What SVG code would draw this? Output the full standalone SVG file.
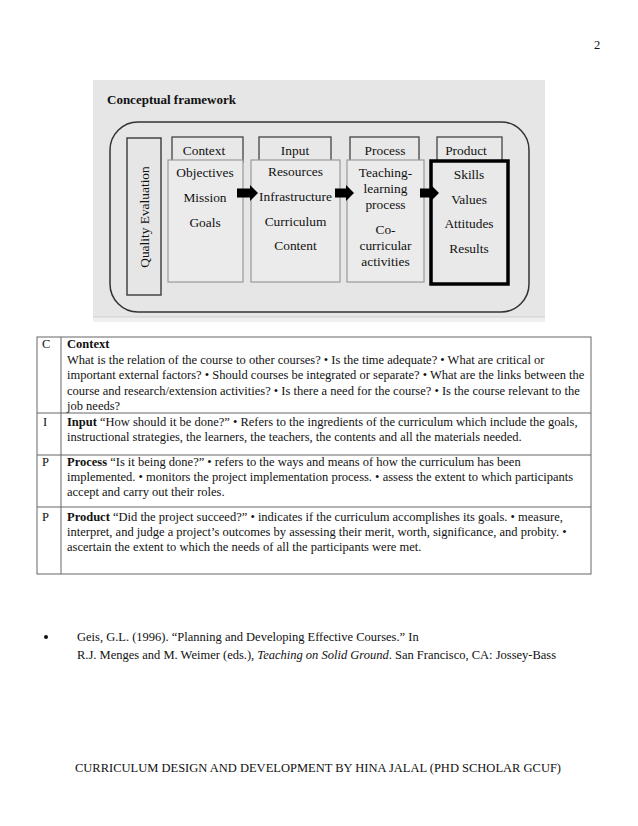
<svg xmlns="http://www.w3.org/2000/svg" width="638" height="826" viewBox="0 0 638 826">
<style>
text{font-family:"Liberation Serif","Times New Roman",serif;fill:#111}
.d{font-size:13.4px;text-anchor:middle}
.t{font-size:12.5px}
.hdr{fill:#e8e8e8;stroke:#444;stroke-width:1.3}
.box{fill:#ebebeb;stroke:#9a9a9a;stroke-width:1.2}
.arr{fill:#000}
.tl{stroke:#666;stroke-width:1;fill:none}
</style>
<rect width="638" height="826" fill="#fff"/>
<text x="597" y="49" class="t" text-anchor="middle">2</text>
<g id="figure">
<rect x="93" y="80" width="452" height="237" fill="#e6e6e6"/>
<rect x="93" y="317" width="452" height="5" fill="#f0f0f0"/>
<line x1="93" y1="317" x2="545" y2="317" stroke="#cfcfcf" stroke-width="1"/>
<text x="107" y="104" style="font-size:13px;font-weight:bold">Conceptual framework</text>
<rect id="frame" x="110" y="122" width="419" height="190" rx="28" ry="28" fill="none" stroke="#333" stroke-width="1.5"/>
</g>
<g id="quality-evaluation">
<rect x="127" y="138" width="34" height="157" fill="#e6e6e6" stroke="#444" stroke-width="1.5"/>
<text class="d" transform="translate(149,217) rotate(-90)">Quality Evaluation</text>
</g>
<g id="context">
<rect class="hdr" x="172" y="137" width="71" height="25"/>
<text class="d" x="204" y="155">Context</text>
<rect class="box" x="168" y="160" width="75" height="122"/>
<text class="d" x="205" y="177">Objectives</text>
<text class="d" x="205" y="202">Mission</text>
<text class="d" x="205" y="227">Goals</text>
</g>
<g id="input">
<rect class="hdr" x="259" y="137" width="72" height="25"/>
<text class="d" x="295" y="155">Input</text>
<rect class="box" x="251" y="160" width="89" height="122"/>
<text class="d" x="295.5" y="176">Resources</text>
<text class="d" x="295.5" y="201">Infrastructure</text>
<text class="d" x="295.5" y="226">Curriculum</text>
<text class="d" x="295.5" y="250">Content</text>
</g>
<g id="process">
<rect class="hdr" x="350" y="137" width="69" height="25"/>
<text class="d" x="385" y="155">Process</text>
<rect class="box" x="347" y="160" width="77" height="122"/>
<text class="d" x="385.5" y="177">Teaching-</text>
<text class="d" x="385.5" y="193">learning</text>
<text class="d" x="385.5" y="209">process</text>
<text class="d" x="385.5" y="234">Co-</text>
<text class="d" x="385.5" y="250">curricular</text>
<text class="d" x="385.5" y="266">activities</text>
</g>
<g id="product">
<rect class="hdr" x="437" y="137" width="65" height="25"/>
<text class="d" x="466" y="155">Product</text>
<rect x="431" y="161" width="77" height="123" fill="#e9e9e9" stroke="#000" stroke-width="3.5"/>
<text class="d" x="469" y="179">Skills</text>
<text class="d" x="469" y="204">Values</text>
<text class="d" x="469" y="228">Attitudes</text>
<text class="d" x="469" y="253">Results</text>
</g>
<g id="connectors">
<polygon class="arr" points="237,188.5 250,188.5 250,185 258,193 250,201 250,197.5 237,197.5"/>
<polygon class="arr" points="335,188.5 346,188.5 346,185 354,193 346,201 346,197.5 335,197.5"/>
<polygon class="arr" points="420,188.5 431,188.5 431,185 439,193 431,201 431,197.5 420,197.5"/>
</g>
<g id="table">
<rect class="tl" x="37" y="337" width="554" height="237"/>
<line class="tl" x1="61" y1="337" x2="61" y2="574"/>
<line class="tl" x1="37" y1="413" x2="591" y2="413"/>
<line class="tl" x1="37" y1="455" x2="591" y2="455"/>
<line class="tl" x1="37" y1="507" x2="591" y2="507"/>
<text class="t" x="42" y="348">C</text>
<text class="t" x="43" y="426">I</text>
<text class="t" x="42" y="466">P</text>
<text class="t" x="42" y="521">P</text>
<text class="t" x="67" y="348" font-weight="bold">Context</text>
<text class="t" x="67" y="363.5">What is the relation of the course to other courses? • Is the time adequate? • What are critical or</text>
<text class="t" x="67" y="379">important external factors? • Should courses be integrated or separate? • What are the links between the</text>
<text class="t" x="67" y="394.5">course and research/extension activities? • Is there a need for the course? • Is the course relevant to the</text>
<text class="t" x="67" y="410">job needs?</text>
<text class="t" x="67" y="426"><tspan font-weight="bold">Input</tspan> “How should it be done?” • Refers to the ingredients of the curriculum which include the goals,</text>
<text class="t" x="67" y="441">instructional strategies, the learners, the teachers, the contents and all the materials needed.</text>
<text class="t" x="67" y="466"><tspan font-weight="bold">Process</tspan> “Is it being done?” • refers to the ways and means of how the curriculum has been</text>
<text class="t" x="67" y="481">implemented. • monitors the project implementation process. • assess the extent to which participants</text>
<text class="t" x="67" y="496">accept and carry out their roles.</text>
<text class="t" x="67" y="521"><tspan font-weight="bold">Product</tspan> “Did the project succeed?” • indicates if the curriculum accomplishes its goals. • measure,</text>
<text class="t" x="67" y="536">interpret, and judge a project’s outcomes by assessing their merit, worth, significance, and probity. •</text>
<text class="t" x="67" y="551">ascertain the extent to which the needs of all the participants were met.</text>
</g>
<g id="reference">
<circle cx="46" cy="637" r="2" fill="#111"/>
<text class="t" x="77" y="641">Geis, G.L. (1996). “Planning and Developing Effective Courses.” In</text>
<text class="t" x="77" y="659">R.J. Menges and M. Weimer (eds.), <tspan font-style="italic">Teaching on Solid Ground</tspan>. San Francisco, CA: Jossey-Bass</text>
</g>
<text class="t" x="75" y="772">CURRICULUM DESIGN AND DEVELOPMENT BY HINA JALAL (PHD SCHOLAR GCUF)</text>
</svg>
